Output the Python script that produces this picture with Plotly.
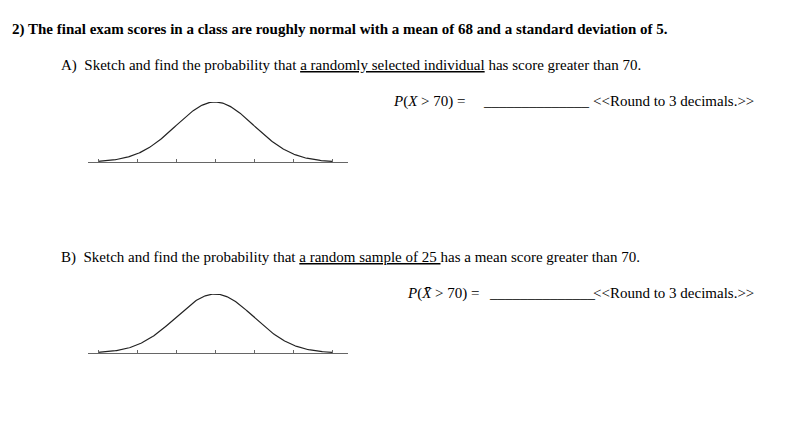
import numpy as np
import plotly.graph_objects as go

# z-scores of the sketch (curve spans mean +/- 3 sd)
z = np.linspace(-3, 3, 241)
density = np.exp(-z ** 2 / 2) / np.sqrt(2 * np.pi)
tick_z = [-3, -2, -1, 0, 1, 2, 3]

title = "2) The final exam scores in a class are roughly normal with a mean of 68 and a standard deviation of 5."
part_a = ("A)  Sketch and find the probability that <span style='text-decoration:underline'>a randomly selected individual</span>"
          " has score greater than 70.")
part_b = ("B)  Sketch and find the probability that <span style='text-decoration:underline'>a random sample of 25 </span>"
          "has a mean score greater than 70.")
prob_a = "<i>P</i>(<i>X</i> > 70) ="
prob_b = "<i>P</i>(<i>X̄</i> > 70) ="
blank = "______________"
note = "&lt;&lt;Round to 3 decimals.&gt;&gt;"

W, H = 788, 448
OFF = 8  # page body margin

fig = go.Figure()
fig.add_trace(go.Scatter(x=z, y=density, mode="lines", line=dict(color="#222", width=1.2),
                         xaxis="x", yaxis="y", hoverinfo="skip"))
fig.add_trace(go.Scatter(x=z, y=density, mode="lines", line=dict(color="#222", width=1.2),
                         xaxis="x2", yaxis="y2", hoverinfo="skip"))

def px(x):
    return (x - OFF) / W

def py(y):
    return 1 - (y - OFF) / H

xdom = [px(88), px(348)]
xr = [(88 - 215) / 39, (348 - 215) / 39]
xa = dict(domain=xdom, range=xr, showgrid=False, zeroline=False, showline=True, linecolor="#666",
          linewidth=1, ticks="inside", ticklen=3, tickcolor="#666", tickvals=tick_z, showticklabels=False)
ya = dict(range=[0, 0.3989], showgrid=False, zeroline=False, showticklabels=False, showline=False)

fig.update_layout(
    width=W, height=H, margin=dict(l=0, r=0, t=0, b=0),
    paper_bgcolor="white", plot_bgcolor="white", showlegend=False,
    xaxis=dict(xa, anchor="y"),
    yaxis=dict(ya, domain=[py(162), py(102)], anchor="x"),
    xaxis2=dict(xa, anchor="y2"),
    yaxis2=dict(ya, domain=[py(353), py(294)], anchor="x2"),
    font=dict(family="Liberation Serif", size=15, color="black"),
)

def txt(s, x, y):
    fig.add_annotation(text=s, x=px(x), y=py(y), xref="paper", yref="paper",
                       xanchor="left", yanchor="middle", showarrow=False)

txt("<b>" + title + "</b>", 10, 29)
txt(part_a, 59, 66)
txt(prob_a, 391, 101)
txt(blank, 481, 101)
txt(note, 591, 101)
txt(part_b, 59, 257)
txt(prob_b, 405, 293)
txt(blank, 487, 293)
txt(note, 591, 293)

fig.write_html("out.html")
